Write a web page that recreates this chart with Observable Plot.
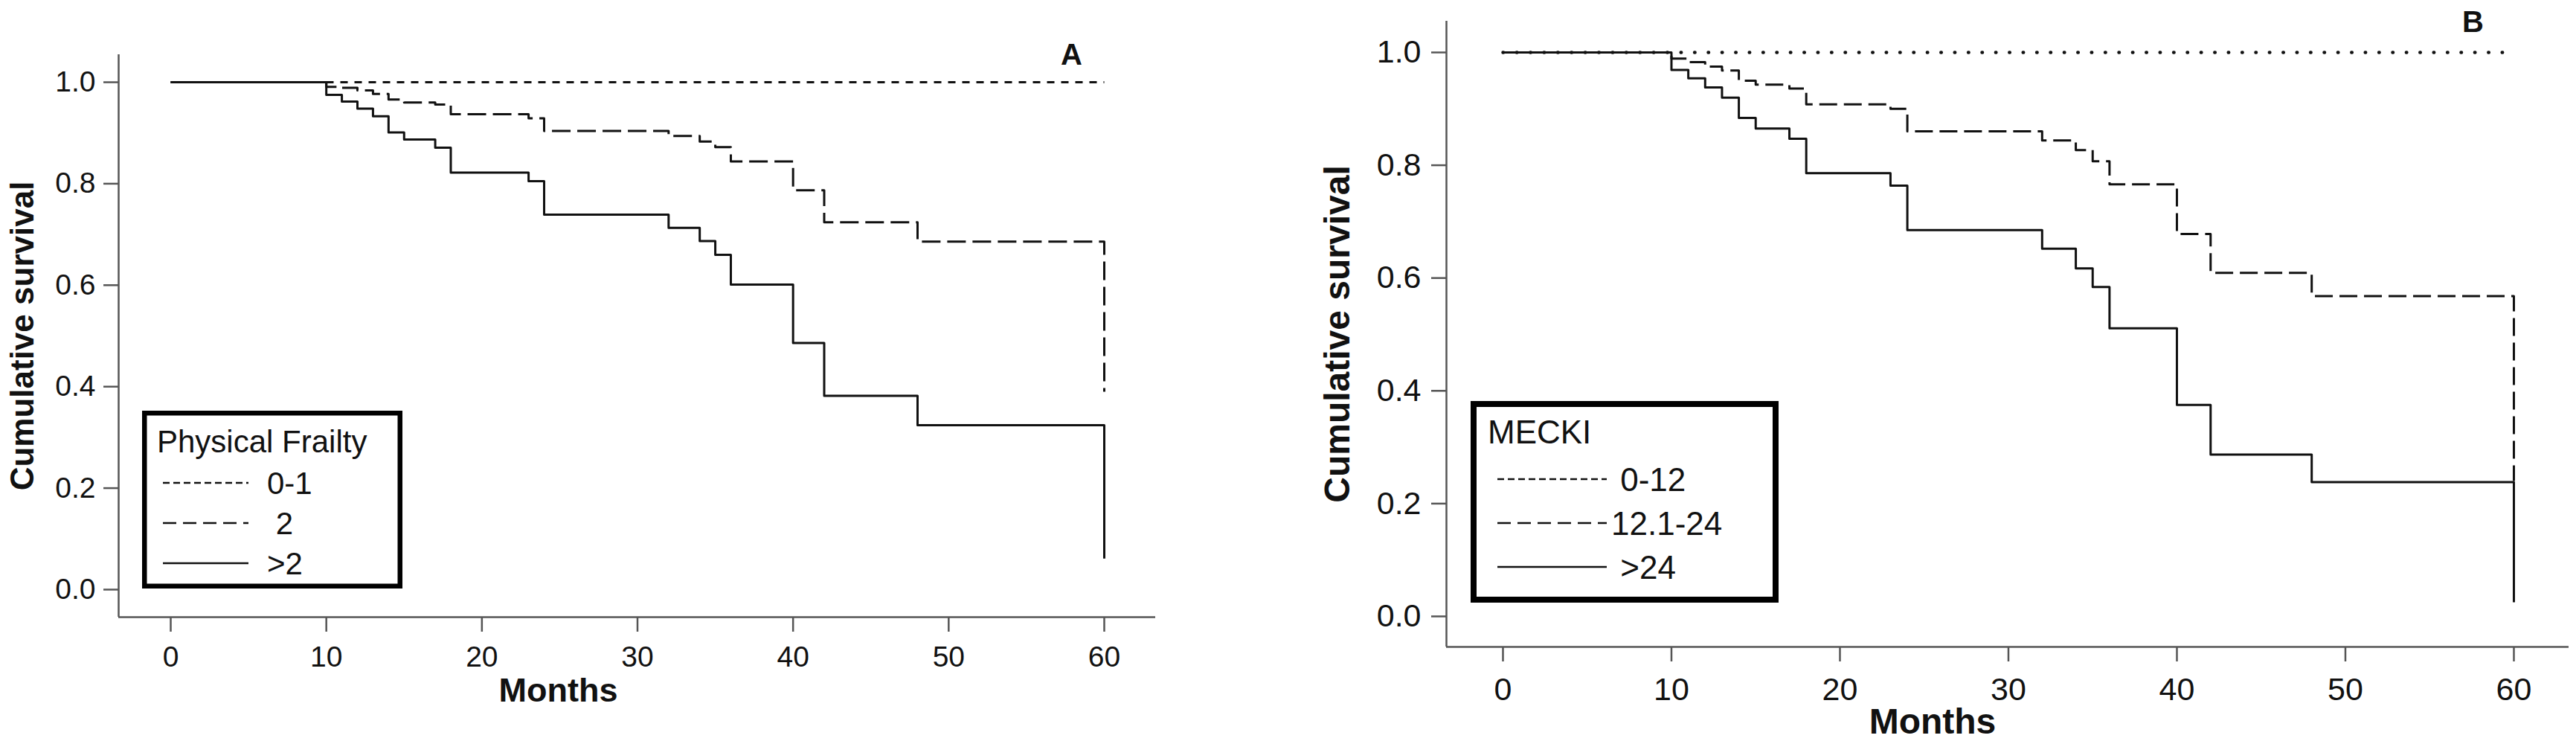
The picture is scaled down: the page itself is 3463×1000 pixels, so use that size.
<!DOCTYPE html>
<html><head><meta charset="utf-8">
<script src="https://cdn.jsdelivr.net/npm/d3@7"></script>
<script src="https://cdn.jsdelivr.net/npm/@observablehq/plot@0.6"></script>
<style>
body{margin:0;background:#fff;width:3463px;height:1000px;overflow:hidden;font-family:"Liberation Sans",Arial,sans-serif;}
#wrap{position:relative;width:3463px;height:1000px;}
.panel{position:absolute;top:0;}
.panel svg{overflow:visible;}
.leg{position:absolute;top:0;left:0;overflow:visible;}
</style></head><body><div id="wrap"></div>
<script>
// ---- shared ticks ----
const monthTicks = [0, 10, 20, 30, 40, 50, 60];
const survTicks = [0, 0.2, 0.4, 0.6, 0.8, 1.0];

// ---- Panel A: Physical Frailty ----
const aTitle = "Physical Frailty";
const aGroups = ["0-1", " 2", ">2"];
const aLowTime = [0, 60];
const aLowSurv = [1, 1];
const aMidTime = [0, 10, 11, 12, 13, 14, 15, 17, 18, 23, 24, 32, 34, 35, 36, 40, 42, 48, 60];
const aMidSurv = [1, 0.991, 0.989, 0.984, 0.977, 0.966, 0.960, 0.956, 0.937, 0.929, 0.904, 0.894, 0.883, 0.872, 0.844, 0.787, 0.724, 0.686, 0.390];
const aHighTime = [0, 10, 11, 12, 13, 14, 15, 17, 18, 23, 24, 32, 34, 35, 36, 40, 42, 48, 60];
const aHighSurv = [1, 0.975, 0.962, 0.948, 0.933, 0.901, 0.887, 0.871, 0.822, 0.805, 0.739, 0.713, 0.687, 0.660, 0.601, 0.486, 0.382, 0.324, 0.061];

// ---- Panel B: MECKI ----
const bTitle = "MECKI";
const bGroups = [" 0-12", "12.1-24", " >24"];
const bLowTime = [0, 60];
const bLowSurv = [1, 1];
const bMidTime = [0, 10, 11, 12, 13, 14, 15, 17, 18, 23, 24, 32, 34, 35, 36, 40, 42, 48, 60];
const bMidSurv = [1, 0.989, 0.983, 0.975, 0.968, 0.950, 0.943, 0.936, 0.908, 0.900, 0.860, 0.844, 0.827, 0.807, 0.766, 0.678, 0.609, 0.568, 0.240];
const bHighTime = [0, 10, 11, 12, 13, 14, 15, 17, 18, 23, 24, 32, 34, 35, 36, 40, 42, 48, 60];
const bHighSurv = [1, 0.969, 0.954, 0.938, 0.920, 0.884, 0.865, 0.847, 0.786, 0.764, 0.685, 0.652, 0.617, 0.584, 0.511, 0.375, 0.287, 0.238, 0.025];

const FONT = '"Liberation Sans", Arial, sans-serif';
const zip = (t, s) => t.map((d, i) => ({month: d, surv: s[i]}));

function panel(cfg) {
  const lineMarks = cfg.series.map(s =>
    Plot.line(zip(s.time, s.surv), {
      x: "month", y: "surv", curve: "step-after",
      stroke: "#111", strokeWidth: s.width,
      strokeDasharray: s.dash, strokeLinecap: s.cap || "butt"
    }));
  const chart = Plot.plot({
    width: cfg.width, height: cfg.height,
    marginLeft: cfg.mL, marginRight: cfg.mR, marginTop: cfg.mT, marginBottom: cfg.mB,
    x: {domain: cfg.xDom},
    y: {domain: cfg.yDom},
    style: {fontFamily: FONT, background: "transparent", color: "#111"},
    marks: [
      ...lineMarks,
      Plot.ruleX([cfg.xDom[0]], {stroke: "#555", strokeWidth: 2.5}),
      Plot.ruleY([cfg.yDom[0]], {stroke: "#555", strokeWidth: 2.5}),
      Plot.axisX({ticks: monthTicks, tickSize: 20, tickPadding: cfg.xPad, fontSize: cfg.tickFont,
        stroke: "#555", strokeWidth: 2.5, fill: "#111", label: null, tickFormat: d => String(d)}),
      Plot.axisY({ticks: survTicks, tickSize: 20, tickPadding: cfg.yPad, fontSize: cfg.tickFont,
        stroke: "#555", strokeWidth: 2.5, fill: "#111", label: null, tickFormat: d3.format(".1f")}),
      Plot.text(["Cumulative survival"], {frameAnchor: "left", dx: cfg.yLabDx, rotate: -90,
        textAnchor: "middle", lineAnchor: "middle",
        fontSize: cfg.yLabFont, fontWeight: "bold", fill: "#111"}),
      Plot.text(["Months"], {frameAnchor: "bottom", dx: cfg.xLabDx, dy: cfg.xLabDy,
        textAnchor: "middle", lineAnchor: "middle",
        fontSize: cfg.xLabFont, fontWeight: "bold", fill: "#111"}),
      Plot.text([cfg.letter], {frameAnchor: "top-right", dx: cfg.letDx, dy: cfg.letDy,
        textAnchor: "middle", lineAnchor: "middle",
        fontSize: 40, fontWeight: "bold", fill: "#111"})
    ]
  });
  const div = document.createElement("div");
  div.className = "panel";
  div.style.left = cfg.left + "px";
  div.appendChild(chart);
  document.getElementById("wrap").appendChild(div);
}

function legend(cfg) {
  const ns = "http://www.w3.org/2000/svg";
  const svg = document.createElementNS(ns, "svg");
  svg.setAttribute("class", "leg");
  svg.setAttribute("width", 3463);
  svg.setAttribute("height", 1000);
  const mk = (tag, attrs, txt) => {
    const e = document.createElementNS(ns, tag);
    for (const k in attrs) e.setAttribute(k, attrs[k]);
    if (txt != null) e.textContent = txt;
    svg.appendChild(e);
    return e;
  };
  const b = cfg.border;
  mk("rect", {x: cfg.x0 + b / 2, y: cfg.y0 + b / 2, width: cfg.x1 - cfg.x0 - b, height: cfg.y1 - cfg.y0 - b,
    fill: "#fff", stroke: "#000", "stroke-width": b});
  mk("text", {x: cfg.titleX, y: cfg.titleY, "font-size": cfg.font, "font-family": FONT, fill: "#111",
    "dominant-baseline": "central"}, cfg.title);
  cfg.rows.forEach((r, i) => {
    mk("line", {x1: cfg.lx1, x2: cfg.lx2, y1: cfg.rowY[i], y2: cfg.rowY[i], stroke: "#111",
      "stroke-width": 2.5, "stroke-dasharray": r.dash || "none"});
    const t = mk("text", {x: cfg.labelX, y: cfg.rowY[i], "font-size": cfg.font, "font-family": FONT,
      fill: "#111", "dominant-baseline": "central"}, r.label);
    t.style.whiteSpace = "pre";
  });
  document.getElementById("wrap").appendChild(svg);
}

panel({
  left: 0, width: 1760, height: 1000, mL: 159, mR: 207, mT: 73, mB: 171,
  xDom: [-3.347, 63.299], yDom: [-0.0543, 1.0543],
  tickFont: 39, xPad: 19, yPad: 11,
  yLabDx: -129, yLabFont: 44, xLabDx: -106, xLabDy: 99, xLabFont: 45,
  letter: "A", letDx: -113, letDy: 1,
  series: [
    {time: aLowTime, surv: aLowSurv, dash: "10,9", width: 3},
    {time: aMidTime, surv: aMidSurv, dash: "25,9", width: 3},
    {time: aHighTime, surv: aHighSurv, dash: null, width: 3}
  ]
});

panel({
  left: 1760, width: 1703, height: 1000, mL: 184, mR: 10, mT: 28, mB: 131,
  xDom: [-3.355, 63.267], yDom: [-0.0541, 1.0554],
  tickFont: 43, xPad: 21, yPad: 14,
  yLabDx: -146, yLabFont: 48, xLabDx: -101, xLabDy: 101, xLabFont: 48,
  letter: "B", letDx: -129, letDy: 2,
  series: [
    {time: bLowTime, surv: bLowSurv, dash: "0.5,17.9", width: 4.5, cap: "round"},
    {time: bMidTime, surv: bMidSurv, dash: "24,9", width: 3},
    {time: bHighTime, surv: bHighSurv, dash: null, width: 3}
  ]
});

legend({
  x0: 191, x1: 541, y0: 552, y1: 791, border: 6.5, font: 42,
  title: aTitle, titleX: 211, titleY: 593,
  lx1: 219, lx2: 334, labelX: 359, rowY: [649, 703, 757],
  rows: [{label: aGroups[0], dash: "9,5"}, {label: aGroups[1], dash: "18,9"}, {label: aGroups[2], dash: null}]
});

legend({
  x0: 1977, x1: 2391, y0: 539, y1: 810, border: 8, font: 44,
  title: bTitle, titleX: 2000, titleY: 580,
  lx1: 2013, lx2: 2160, labelX: 2166, rowY: [644, 703, 762],
  rows: [{label: bGroups[0], dash: "9,5"}, {label: bGroups[1], dash: "18,9"}, {label: bGroups[2], dash: null}]
});
</script></body></html>
